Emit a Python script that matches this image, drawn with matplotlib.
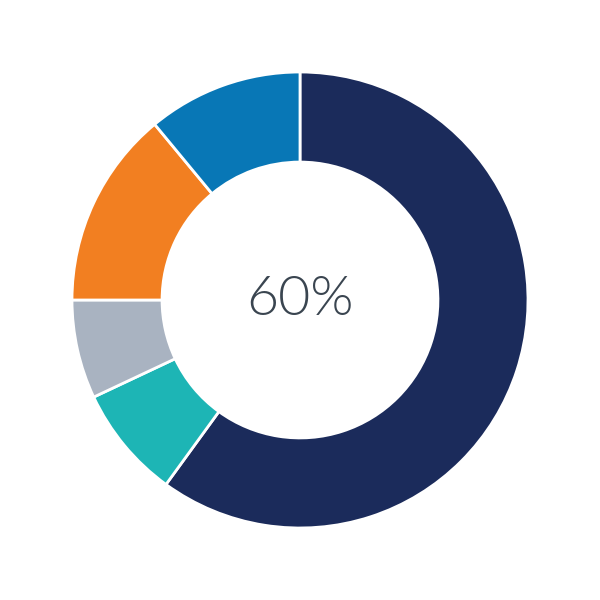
import matplotlib
matplotlib.use("Agg")
import matplotlib.pyplot as plt

# segments, clockwise from 12 o'clock
labels = ["Navy", "Teal", "Gray", "Orange", "Blue"]
values = [60, 8, 7, 14, 11]
colors = ["#1b2b5b", "#1db5b5", "#a9b3c1", "#f27f21", "#0877b6"]
center_text = "60%"

fig = plt.figure(figsize=(6, 6), dpi=100)
ax = fig.add_axes([0, 0, 1, 1])

ax.pie(values, colors=colors, startangle=90, counterclock=False,
       radius=1.0,
       wedgeprops=dict(width=0.395, edgecolor="white", linewidth=2))

ax.text(0, 0, center_text, ha="center", va="center",
        fontsize=40, family="Lato", fontweight=300, color="#3a4550")

lim = 300 / 228
ax.set_xlim(-lim, lim)
ax.set_ylim(-lim, lim)
ax.set_aspect("equal")
ax.axis("off")

fig.savefig("out.png", dpi=100, facecolor="white")
